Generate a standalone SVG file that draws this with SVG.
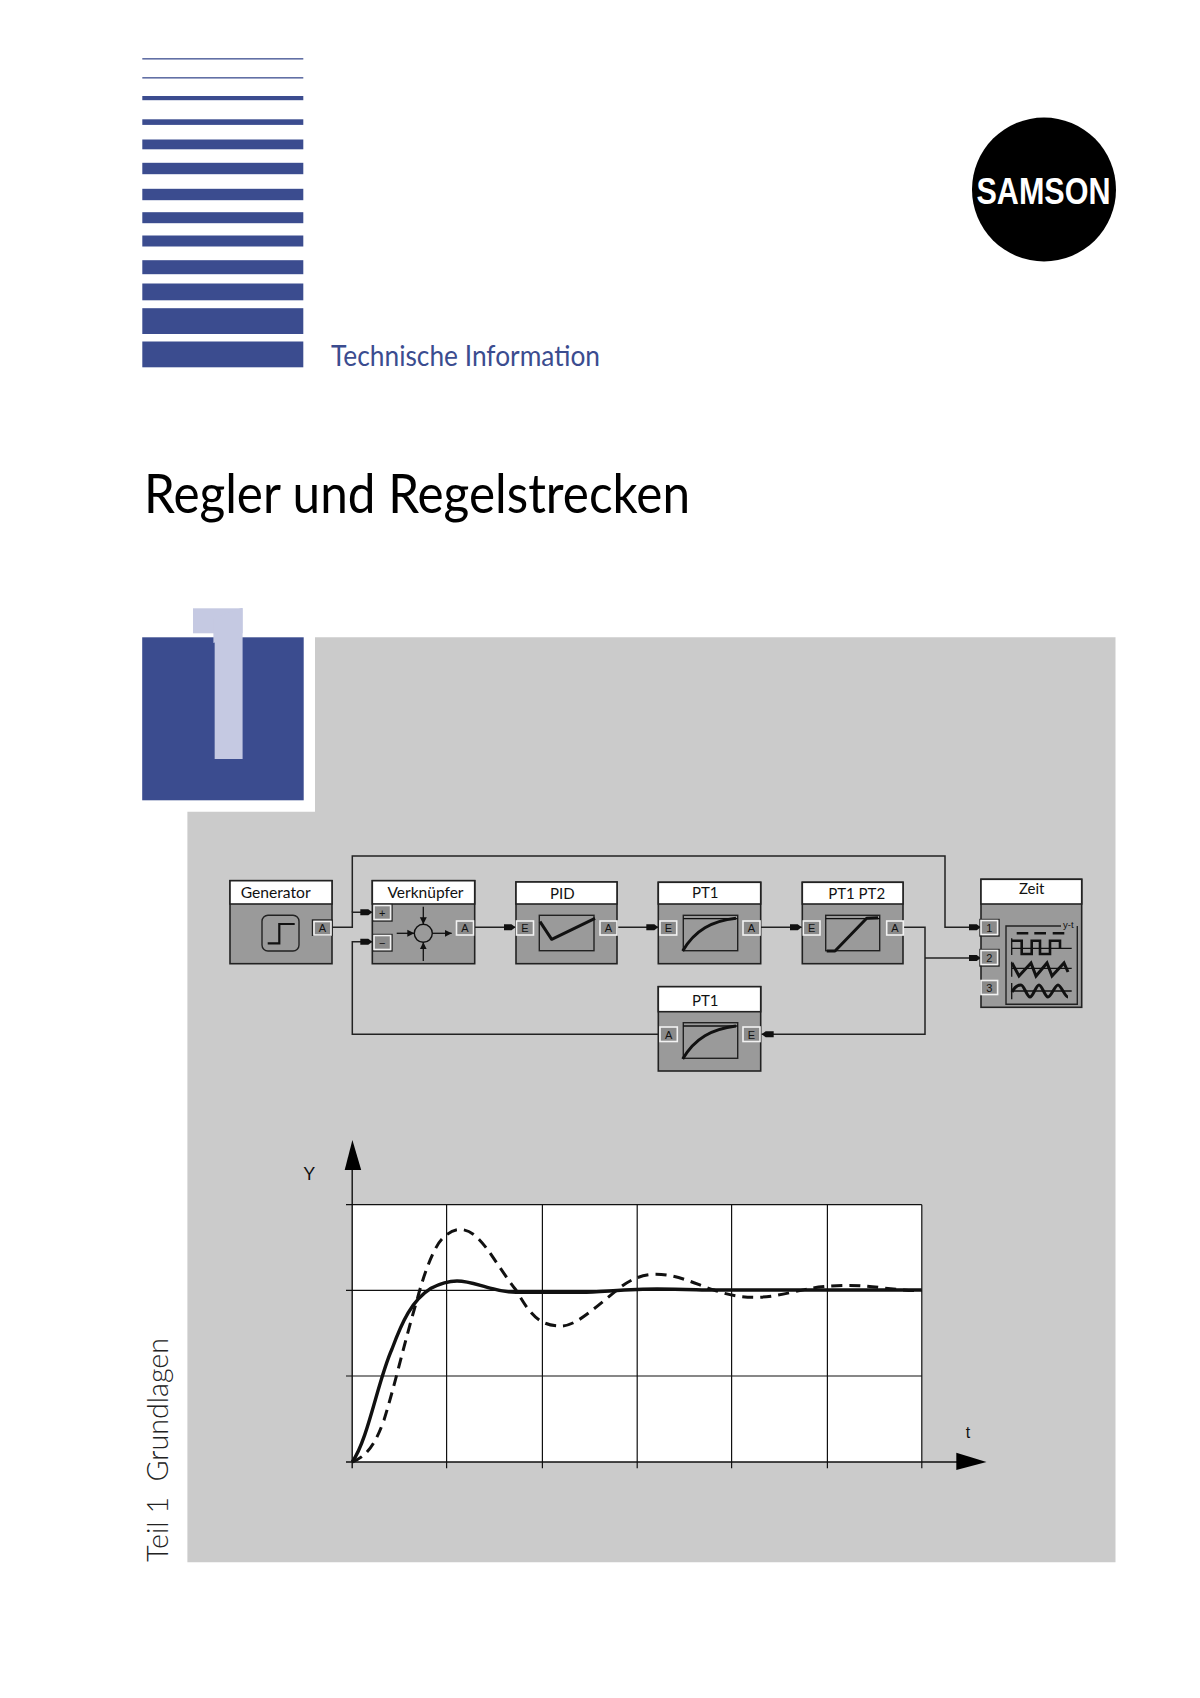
<svg xmlns="http://www.w3.org/2000/svg" width="1200" height="1698" viewBox="0 0 1200 1698">
<style>
.blue{fill:#3b4c8f}
text{font-family:"Lato","Liberation Sans",sans-serif}
.box{fill:#9a9a9a;stroke:#222;stroke-width:1.6}
.head{fill:#fff;stroke:#222;stroke-width:1.6}
.ttl{font-size:15px;fill:#111;text-anchor:middle}
.port{fill:#8a8a8a;stroke:#f2f2f2;stroke-width:1.6}
.portd{fill:none;stroke:#222;stroke-width:1.4}
.pl{font-family:"Liberation Sans",sans-serif;font-size:11px;fill:#111;text-anchor:middle}
.chart{fill:none;stroke:#222;stroke-width:1.4}
.curve{fill:none;stroke:#111;stroke-width:3;stroke-linejoin:round}
.thin{fill:none;stroke:#111;stroke-width:1.3}
.con{fill:none;stroke:#222;stroke-width:1.5}
.arr{marker-end:url(#ah)}
.grid{fill:none;stroke:#111;stroke-width:1.2}
</style>
<defs>
<marker id="ah" markerUnits="userSpaceOnUse" markerWidth="13" markerHeight="8" refX="12" refY="4" orient="auto"><path d="M0 1H8L12 4L8 7H0Z" fill="#111"/></marker>
<marker id="as" markerUnits="userSpaceOnUse" markerWidth="8" markerHeight="8" refX="7" refY="4" orient="auto"><path d="M0 0.5L7 4L0 7.5Z" fill="#111"/></marker>
<clipPath id="stem"><rect x="213.4" y="600" width="29.2" height="170"/></clipPath>
</defs>
<rect width="1200" height="1698" fill="#fff"/>

<g id="stripes" class="blue">
<rect x="142.3" y="58" width="161" height="1.6" opacity=".8"/>
<rect x="142.3" y="77" width="161" height="1.6" opacity=".8"/>
<rect x="142.3" y="96" width="161" height="4.2"/>
<rect x="142.3" y="119.3" width="161" height="5.6"/>
<rect x="142.3" y="139.5" width="161" height="9.8"/>
<rect x="142.3" y="162.8" width="161" height="11.4"/>
<rect x="142.3" y="188.8" width="161" height="11.4"/>
<rect x="142.3" y="212.2" width="161" height="11"/>
<rect x="142.3" y="235.5" width="161" height="11"/>
<rect x="142.3" y="260.2" width="161" height="14"/>
<rect x="142.3" y="283.5" width="161" height="16.8"/>
<rect x="142.3" y="308.2" width="161" height="25.8"/>
<rect x="142.3" y="341.5" width="161" height="25.8"/>
</g>
<text id="subtitle" x="331" y="366" font-size="29" fill="#3b4c8f" textLength="269" lengthAdjust="spacingAndGlyphs">Technische Information</text>
<text id="title" x="144" y="513" font-size="55" fill="#000" textLength="546" lengthAdjust="spacingAndGlyphs">Regler und Regelstrecken</text>

<g id="logo">
<circle cx="1044" cy="189.5" r="72" fill="#000"/>
<text x="976.5" y="204" font-size="37" font-weight="700" fill="#fff" textLength="134" lengthAdjust="spacingAndGlyphs" style="font-family:'Liberation Sans',sans-serif">SAMSON</text>
</g>

<path id="panel" d="M315 637.3H1115.5V1562.3H187.4V811.7H315Z" fill="#cbcbcb"/>
<rect id="chapter-box" class="blue" x="142.2" y="637.3" width="161.5" height="163"/>
<g id="chapter-number" fill="#c5c9e2">
<rect x="193" y="608.3" width="49.6" height="25"/>
<text x="161.5" y="759.3" font-size="212" font-weight="700" clip-path="url(#stem)" style="font-family:Roboto,'Liberation Sans',sans-serif">1</text>
</g>
<text id="side-label" transform="translate(168.3 1562) rotate(-90)" font-size="30" font-weight="300" fill="#222" textLength="224" lengthAdjust="spacingAndGlyphs" xml:space="preserve">Teil 1  Grundlagen</text>

<g id="connectors">
<path class="con arr" d="M332 927.3H352.3V912.3H372.3"/>
<path class="con arr" d="M352.3 912.3V856H945V927.3H980.7"/>
<path class="con arr" d="M659.3 1034.3H352.3V941.7H372.3"/>
<path class="con arr" d="M475 927.3H515.5"/>
<path class="con arr" d="M618.3 927.3H658.3"/>
<path class="con arr" d="M761 927.3H801.7"/>
<path class="con arr" d="M903.3 927.3H925V1034.3H761.7"/>
<path class="con arr" d="M925 958H980.7"/>
</g>

<g id="generator">
<rect class="box" x="230" y="880.7" width="102" height="83"/>
<rect class="head" x="230" y="880.7" width="102" height="23.3"/>
<text class="ttl" x="275.7" y="897.7" textLength="70" lengthAdjust="spacingAndGlyphs">Generator</text>
<rect x="262" y="915.3" width="37" height="35.7" rx="6" fill="none" stroke="#222" stroke-width="1.4"/>
<path d="M267.7 943.3H279.3V924H294.7" fill="none" stroke="#111" stroke-width="2.2"/>
<rect class="portd" x="312.5" y="920" width="19.5" height="15.3"/>
<rect class="port" x="314" y="921.5" width="17" height="13.5"/>
<text class="pl" x="322.5" y="932.3">A</text>
</g>

<g id="verknuepfer">
<rect class="box" x="372.3" y="880.7" width="102.4" height="83"/>
<rect class="head" x="372.3" y="880.7" width="102.4" height="23.3"/>
<text class="ttl" x="425.5" y="897.7" textLength="76" lengthAdjust="spacingAndGlyphs">Verknüpfer</text>
<rect class="portd" x="373" y="904.5" width="19" height="16.5"/>
<rect class="port" x="374" y="905.5" width="16.6" height="14"/>
<text class="pl" x="382.3" y="916.5">+</text>
<rect class="portd" x="373" y="934.5" width="19" height="16.5"/>
<rect class="port" x="374" y="935.5" width="16.6" height="14"/>
<text class="pl" x="382.3" y="946.5">−</text>
<circle cx="423.3" cy="933.3" r="9" fill="none" stroke="#111" stroke-width="1.4"/>
<path class="thin" marker-end="url(#as)" d="M423.3 906.7V924.3"/>
<path class="thin" marker-end="url(#as)" d="M423.3 961V942.3"/>
<path class="thin" marker-end="url(#as)" d="M396.7 933.3H414.3"/>
<path class="thin" marker-end="url(#as)" d="M432.3 933.3H451.7"/>
<rect class="port" x="456.5" y="921" width="17" height="14"/>
<text class="pl" x="465" y="932.3">A</text>
</g>

<g id="pid">
<rect class="box" x="516" y="882" width="101" height="81.7"/>
<rect class="head" x="516" y="882" width="101" height="22"/>
<text class="ttl" x="562.3" y="899">PID</text>
<rect class="port" x="516.5" y="921" width="17" height="14"/>
<text class="pl" x="525" y="932.3">E</text>
<rect class="chart" x="539.3" y="915.3" width="54.7" height="35.4"/>
<path class="curve" d="M540 921.7L551.7 939.3L595 918.3"/>
<rect class="port" x="600" y="921" width="17" height="14"/>
<text class="pl" x="608.5" y="932.3">A</text>
</g>

<g id="pt1-top">
<rect class="box" x="658.3" y="882.3" width="102.4" height="81.4"/>
<rect class="head" x="658.3" y="882.3" width="102.4" height="21.7"/>
<text class="ttl" x="705.3" y="897.7">PT1</text>
<rect class="port" x="660" y="921" width="16.7" height="14"/>
<text class="pl" x="668.3" y="932.3">E</text>
<rect class="chart" x="683.3" y="915.3" width="54.4" height="35.4"/>
<path class="thin" d="M683.3 918.7H737.7"/>
<path class="curve" d="M682.7 951C695 930 712 921 736 918.3"/>
<rect class="port" x="743" y="921" width="17" height="14"/>
<text class="pl" x="751.5" y="932.3">A</text>
</g>

<g id="pt1-pt2">
<rect class="box" x="802.3" y="882.3" width="100.7" height="81.4"/>
<rect class="head" x="802.3" y="882.3" width="100.7" height="21.7"/>
<text class="ttl" x="856.7" y="899">PT1 PT2</text>
<rect class="port" x="803.3" y="921" width="16.7" height="14"/>
<text class="pl" x="811.7" y="932.3">E</text>
<rect class="chart" x="825.7" y="915.3" width="54" height="35.4"/>
<path class="thin" d="M825.7 918.7H879.7"/>
<path class="curve" d="M826.7 951H835L866.7 918.3L878 917.7"/>
<rect class="port" x="886.7" y="921" width="16.6" height="14"/>
<text class="pl" x="895" y="932.3">A</text>
</g>

<g id="pt1-bottom">
<rect class="box" x="658.3" y="986.7" width="102.4" height="84.3"/>
<rect class="head" x="658.3" y="986.7" width="102.4" height="25"/>
<text class="ttl" x="705.3" y="1005.7">PT1</text>
<rect class="port" x="660" y="1027" width="17.3" height="14.5"/>
<text class="pl" x="668.6" y="1038.6">A</text>
<rect class="chart" x="683.3" y="1022.7" width="54.4" height="35.6"/>
<path class="thin" d="M683.3 1026H737.7"/>
<path class="curve" d="M682.7 1059C695 1038 712 1029 736 1026"/>
<rect class="port" x="743" y="1027" width="17" height="14.5"/>
<text class="pl" x="751.5" y="1038.6">E</text>
</g>

<g id="zeit">
<rect class="box" x="981" y="879.3" width="100.7" height="128"/>
<rect class="head" x="981" y="879.3" width="100.7" height="24.7"/>
<text class="ttl" x="1031.7" y="894.3">Zeit</text>
<rect class="portd" x="980" y="919.5" width="19" height="16.5"/>
<rect class="port" x="981" y="920.5" width="16.6" height="14"/>
<text class="pl" x="989.3" y="931.8">1</text>
<rect class="portd" x="980" y="949.5" width="19" height="16.5"/>
<rect class="port" x="981" y="950.5" width="16.6" height="14"/>
<text class="pl" x="989.3" y="961.8">2</text>
<rect class="port" x="981" y="980.5" width="16.6" height="14"/>
<text class="pl" x="989.3" y="991.8">3</text>
<path class="chart" d="M1061 926H1006V1004.3H1077.3V926"/>
<text x="1063" y="927.5" font-size="9.5" fill="#111" style="font-family:'Liberation Sans',sans-serif">y-t</text>
<path fill="none" stroke="#111" stroke-width="2.5" d="M1016.7 933.3H1028.3M1034.3 933.3H1046M1052.7 933.3H1064.3"/>
<path class="thin" d="M1011.7 938.3V955M1011.7 948.3H1071.7M1011.7 961.7V976.7M1011.7 968.3H1071.7M1011.7 983V999.3M1011.7 991H1071.7"/>
<path fill="none" stroke="#111" stroke-width="2.6" d="M1011.7 940.7H1021.7V954H1031.7V940.7H1040V954H1050V940.7H1060V948"/>
<path fill="none" stroke="#111" stroke-width="3" d="M1012 963L1019 976L1031 963L1036 976L1047 963L1052 976L1064 963L1068 972"/>
<path fill="none" stroke="#111" stroke-width="3" d="M1012 992C1015 986 1018 985 1021 985S1027 997 1030 997S1036 985 1039 985S1045 997 1048 997S1055 985 1058 985S1065 997 1068 997"/>
</g>

<g id="plot">
<rect x="352.2" y="1204.7" width="569.6" height="257.3" fill="#fff"/>
<path class="grid" d="M446.6 1204.7V1468.3M542.4 1204.7V1468.3M637.2 1204.7V1468.3M731.6 1204.7V1468.3M827.4 1204.7V1468.3M921.8 1204.7V1468.3M346 1204.7H921.8M346 1290.3H921.8M346 1376H921.8"/>
<path fill="none" stroke="#111" stroke-width="1.4" d="M352.2 1468.3V1165M346 1462H960"/>
<path d="M352.4 1140L361.2 1170H344.7Z" fill="#000"/>
<path d="M986.5 1462L956.3 1452.7V1470Z" fill="#000"/>
<text x="309.3" y="1180" font-size="18" text-anchor="middle" fill="#111" style="font-family:'Liberation Sans',sans-serif">Y</text>
<text x="968" y="1438" font-size="16" text-anchor="middle" fill="#111" style="font-family:'Liberation Sans',sans-serif">t</text>
<path class="curve" stroke-width="3.4" style="stroke-width:3.4px" d="M352.2 1462C368 1440 378 1380 392 1349C402 1322 412 1300 431 1288.3C441 1283 450 1281 457 1281C470 1281 480 1286 492.4 1288.7C500 1291 510 1292.3 516 1292.3H582C600 1292 630 1289 657 1289C680 1289 700 1290 704.7 1290H921.8"/>
<path class="curve" stroke-dasharray="11 7" d="M352.2 1462C368 1456 376 1442 384 1420C395 1385 405 1340 417 1300C425 1270 435 1245 443 1238C450 1231 455 1229.5 460 1229.5C472 1229.5 480 1240 488 1250C497 1263 508 1280 516 1290C522 1300 530 1315 542 1321.7C548 1325 555 1326 561 1326C575 1326 590 1312 615 1291.7C625 1283 638 1274.3 656 1274.3C678 1274.3 695 1284 714 1290C728 1295 740 1297.3 756 1297.3C775 1297.3 795 1291 813 1288C825 1286 845 1285 860 1285.7C880 1287 900 1290.7 921.8 1290.7"/>
</g>
</svg>
